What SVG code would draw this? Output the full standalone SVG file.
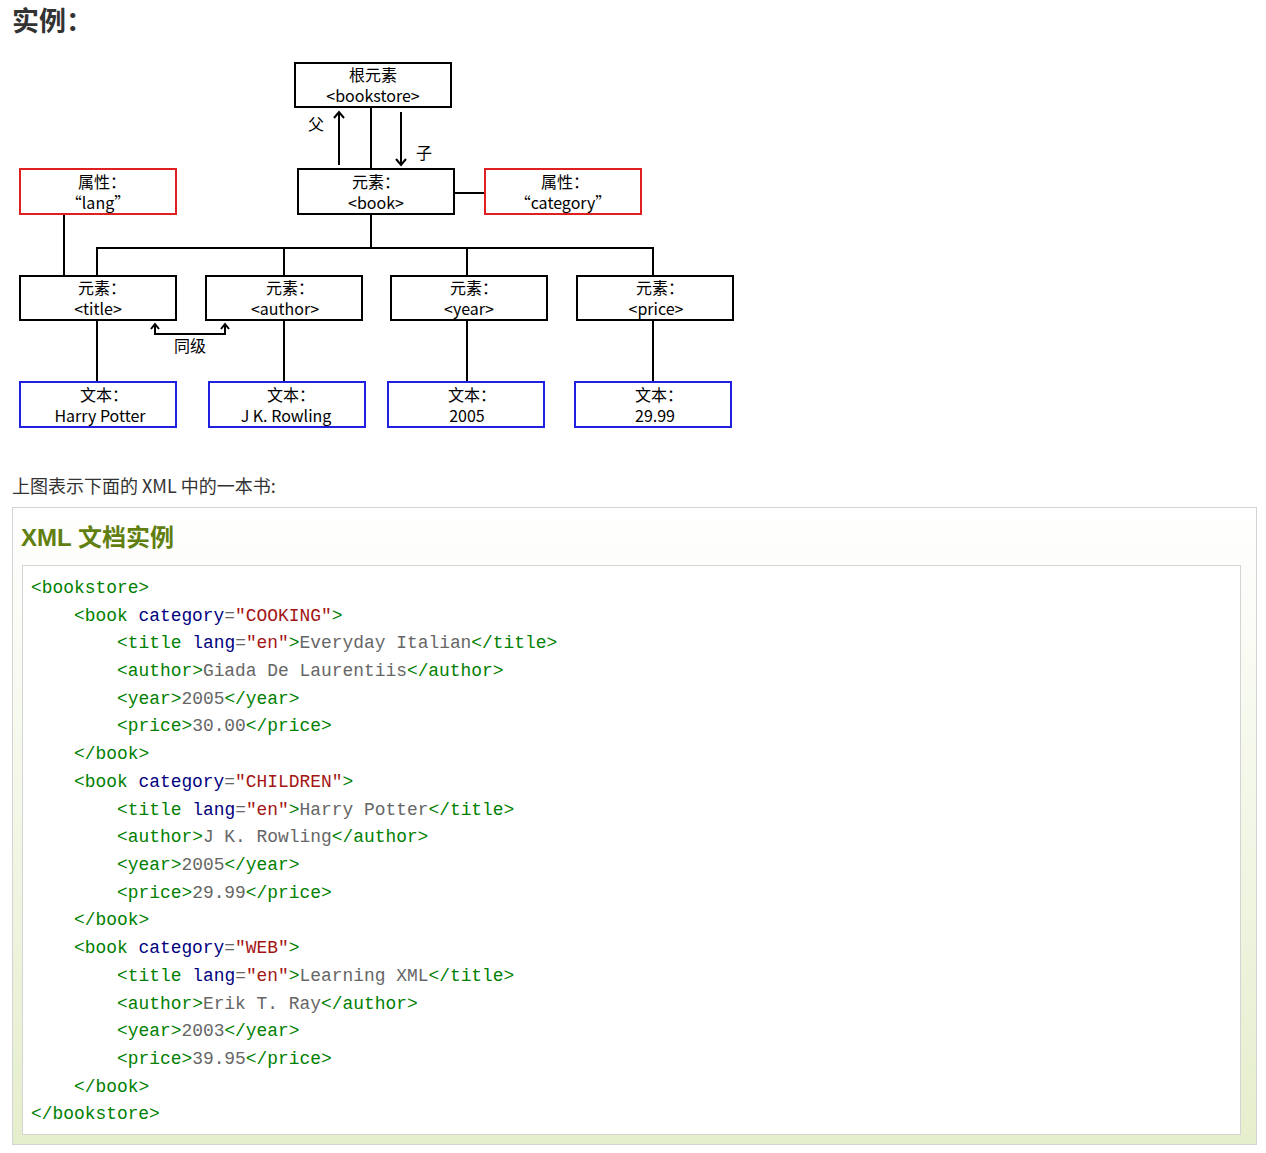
<svg xmlns="http://www.w3.org/2000/svg" width="1266" height="1153" viewBox="0 0 1266 1153">
<defs>
<linearGradient id="bg" x1="0" y1="0" x2="0" y2="1"><stop offset="0" stop-color="#ffffff"/><stop offset="1" stop-color="#e5eecc"/></linearGradient>
<style>
.b{fill:#fff;stroke:#000;stroke-width:2}
.r{fill:#fff;stroke:#e02020;stroke-width:2}
.u{fill:#fff;stroke:#2020e0;stroke-width:2}
.t{font-family:"Noto Sans CJK SC","DejaVu Sans",sans-serif;font-size:16px;fill:#000;text-anchor:middle}
.c line,.c polyline,.c path{stroke:#000;stroke-width:2;fill:none}
.code{font-family:"Liberation Mono",monospace;font-size:17.9px;fill:#666}
.g{fill:#008000}.n{fill:#000080}.v{fill:#a31515}
</style>
</defs>
<rect width="1266" height="1153" fill="#fff"/>
<text x="12" y="31" font-family="Noto Sans CJK SC,sans-serif" font-size="27" font-weight="bold" fill="#333">实例：</text>
<g class="c">
<line x1="371" y1="107" x2="371" y2="169"/>
<line x1="339" y1="165" x2="339" y2="112"/>
<path d="M334,118 L339,112 L344,118" stroke-width="1.5"/>
<line x1="401" y1="112" x2="401" y2="165"/>
<path d="M396,159 L401,165 L406,159" stroke-width="1.5"/>
<line x1="454" y1="193" x2="485" y2="193"/>
<line x1="371" y1="214" x2="371" y2="248"/>
<polyline points="97,276 97,248 653,248 653,276"/>
<line x1="284" y1="248" x2="284" y2="276"/>
<line x1="467" y1="248" x2="467" y2="276"/>
<line x1="64" y1="214" x2="64" y2="276"/>
<line x1="97" y1="320" x2="97" y2="382"/>
<line x1="284" y1="320" x2="284" y2="382"/>
<line x1="467" y1="320" x2="467" y2="382"/>
<line x1="653" y1="320" x2="653" y2="382"/>
<polyline points="155,325 155,334 225,334 225,325" stroke-width="1.5"/>
<path d="M151,329 L155,324 L159,329 M221,329 L225,324 L229,329" stroke-width="1.5"/>
</g>
<text class="t" x="316" y="130">父</text>
<text class="t" x="424" y="159">子</text>
<text class="t" x="190" y="352">同级</text>
<g id="bookstore"><rect class="b" x="295" y="63" width="156" height="44"/><text class="t" x="373" y="81">根元素</text><text class="t" x="373" y="102">&lt;bookstore&gt;</text></g>
<g id="book"><rect class="b" x="298" y="169" width="156" height="45"/><text class="t" x="376" y="188">元素：</text><text class="t" x="376" y="209">&lt;book&gt;</text></g>
<g id="lang"><rect class="r" x="20" y="169" width="156" height="45"/><text class="t" x="102" y="188">属性：</text><text class="t" x="98" y="209">“lang”</text></g>
<g id="category"><rect class="r" x="485" y="169" width="156" height="45"/><text class="t" x="565" y="188">属性：</text><text class="t" x="563" y="209">“category”</text></g>
<g id="title"><rect class="b" x="20" y="276" width="156" height="44"/><text class="t" x="102" y="294">元素：</text><text class="t" x="98" y="315">&lt;title&gt;</text></g>
<g id="author"><rect class="b" x="206" y="276" width="156" height="44"/><text class="t" x="290" y="294">元素：</text><text class="t" x="285" y="315">&lt;author&gt;</text></g>
<g id="year"><rect class="b" x="391" y="276" width="156" height="44"/><text class="t" x="474" y="294">元素：</text><text class="t" x="469" y="315">&lt;year&gt;</text></g>
<g id="price"><rect class="b" x="577" y="276" width="156" height="44"/><text class="t" x="660" y="294">元素：</text><text class="t" x="656" y="315">&lt;price&gt;</text></g>
<g id="t1"><rect class="u" x="20" y="382" width="156" height="45"/><text class="t" x="104" y="401">文本：</text><text class="t" x="100" y="422">Harry Potter</text></g>
<g id="t2"><rect class="u" x="209" y="382" width="156" height="45"/><text class="t" x="291" y="401">文本：</text><text class="t" x="286" y="422">J K. Rowling</text></g>
<g id="t3"><rect class="u" x="388" y="382" width="156" height="45"/><text class="t" x="472" y="401">文本：</text><text class="t" x="467" y="422">2005</text></g>
<g id="t4"><rect class="u" x="575" y="382" width="156" height="45"/><text class="t" x="659" y="401">文本：</text><text class="t" x="655" y="422">29.99</text></g>
<text x="12" y="493" font-family="Noto Sans CJK SC,sans-serif" font-size="18" fill="#333">上图表示下面的 XML 中的一本书:</text>
<rect x="12.5" y="507.5" width="1244" height="637" fill="url(#bg)" stroke="#d4d4d4"/>
<text x="21" y="546" font-family="Liberation Sans,Noto Sans CJK SC,sans-serif" font-size="24" font-weight="bold" fill="#617f10">XML 文档实例</text>
<rect x="22.5" y="565.5" width="1218" height="569" fill="#fff" stroke="#d4d4d4"/>
<g class="code">
<text x="31" y="593"><tspan class="g">&lt;bookstore&gt;</tspan></text>
<text x="74" y="621"><tspan class="g">&lt;book</tspan> <tspan class="n">category</tspan>=<tspan class="v">"COOKING"</tspan><tspan class="g">&gt;</tspan></text>
<text x="117" y="648"><tspan class="g">&lt;title</tspan> <tspan class="n">lang</tspan>=<tspan class="v">"en"</tspan><tspan class="g">&gt;</tspan>Everyday Italian<tspan class="g">&lt;/title&gt;</tspan></text>
<text x="117" y="676"><tspan class="g">&lt;author&gt;</tspan>Giada De Laurentiis<tspan class="g">&lt;/author&gt;</tspan></text>
<text x="117" y="704"><tspan class="g">&lt;year&gt;</tspan>2005<tspan class="g">&lt;/year&gt;</tspan></text>
<text x="117" y="731"><tspan class="g">&lt;price&gt;</tspan>30.00<tspan class="g">&lt;/price&gt;</tspan></text>
<text x="74" y="759"><tspan class="g">&lt;/book&gt;</tspan></text>
<text x="74" y="787"><tspan class="g">&lt;book</tspan> <tspan class="n">category</tspan>=<tspan class="v">"CHILDREN"</tspan><tspan class="g">&gt;</tspan></text>
<text x="117" y="815"><tspan class="g">&lt;title</tspan> <tspan class="n">lang</tspan>=<tspan class="v">"en"</tspan><tspan class="g">&gt;</tspan>Harry Potter<tspan class="g">&lt;/title&gt;</tspan></text>
<text x="117" y="842"><tspan class="g">&lt;author&gt;</tspan>J K. Rowling<tspan class="g">&lt;/author&gt;</tspan></text>
<text x="117" y="870"><tspan class="g">&lt;year&gt;</tspan>2005<tspan class="g">&lt;/year&gt;</tspan></text>
<text x="117" y="898"><tspan class="g">&lt;price&gt;</tspan>29.99<tspan class="g">&lt;/price&gt;</tspan></text>
<text x="74" y="925"><tspan class="g">&lt;/book&gt;</tspan></text>
<text x="74" y="953"><tspan class="g">&lt;book</tspan> <tspan class="n">category</tspan>=<tspan class="v">"WEB"</tspan><tspan class="g">&gt;</tspan></text>
<text x="117" y="981"><tspan class="g">&lt;title</tspan> <tspan class="n">lang</tspan>=<tspan class="v">"en"</tspan><tspan class="g">&gt;</tspan>Learning XML<tspan class="g">&lt;/title&gt;</tspan></text>
<text x="117" y="1009"><tspan class="g">&lt;author&gt;</tspan>Erik T. Ray<tspan class="g">&lt;/author&gt;</tspan></text>
<text x="117" y="1036"><tspan class="g">&lt;year&gt;</tspan>2003<tspan class="g">&lt;/year&gt;</tspan></text>
<text x="117" y="1064"><tspan class="g">&lt;price&gt;</tspan>39.95<tspan class="g">&lt;/price&gt;</tspan></text>
<text x="74" y="1092"><tspan class="g">&lt;/book&gt;</tspan></text>
<text x="31" y="1119"><tspan class="g">&lt;/bookstore&gt;</tspan></text>
</g>
</svg>
